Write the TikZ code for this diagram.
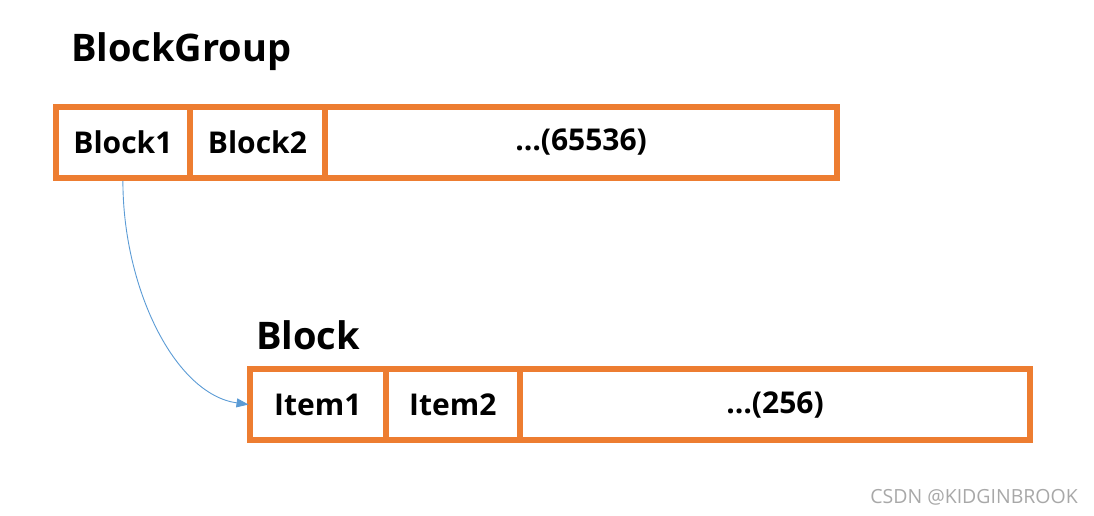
\documentclass[tikz,border=0pt]{standalone}
\usepackage{fontspec}
\setmainfont{Open Sans}
\usetikzlibrary{arrows.meta}
\usetikzlibrary{positioning}

\definecolor{cellorange}{HTML}{ED7D31}
\definecolor{linkblue}{HTML}{5B9BD5}
\definecolor{markgray}{HTML}{A8A8A8}

\tikzset{
	cell/.style={rectangle, draw=cellorange, line width=6pt, inner sep=0pt, outer sep=0pt, minimum height=71pt, font=\fontsize{30}{32}\selectfont\bfseries},
	heading/.style={anchor=base west, inner sep=0pt, font=\fontsize{38}{42}\selectfont\bfseries},
}

\begin{document}
\begin{tikzpicture}[x=1pt, y=1pt]
		\useasboundingbox (0,0) rectangle (1094,-516);

		% BlockGroup
		\node[heading] (bg_title) at (71,-62) {BlockGroup};
		\node[cell, minimum width=133.7pt] (b1) at (122.9,-142.5) {Block1};
		\node[cell, minimum width=135.3pt, right=0pt of b1] (b2) {Block2};
		\node[cell, minimum width=512pt, right=0pt of b2] (b3) {…(65536)};

		% Block
		\node[heading] (blk_title) at (256,-349.5) {Block};
		\node[cell, minimum width=135.5pt] (i1) at (317.75,-404.75) {Item1};
		\node[cell, minimum width=134.5pt, right=0pt of i1] (i2) {Item2};
		\node[cell, minimum width=510pt, right=0pt of i2] (i3) {…(256)};

		% Connections
		\draw[-{Triangle[length=12pt, width=9pt]}, line width=0.9pt, linkblue, shorten <=3pt, shorten >=1.5pt]
			(b1.south) to[out=-90, in=172, out distance=110pt, in distance=76pt] (i1.west);

		% Watermark
		\node[anchor=base east, inner sep=0pt, text=markgray, font=\fontsize{19.5}{21}\selectfont] (mark) at (1078,-503) {CSDN @KIDGINBROOK};

\end{tikzpicture}
\end{document}
